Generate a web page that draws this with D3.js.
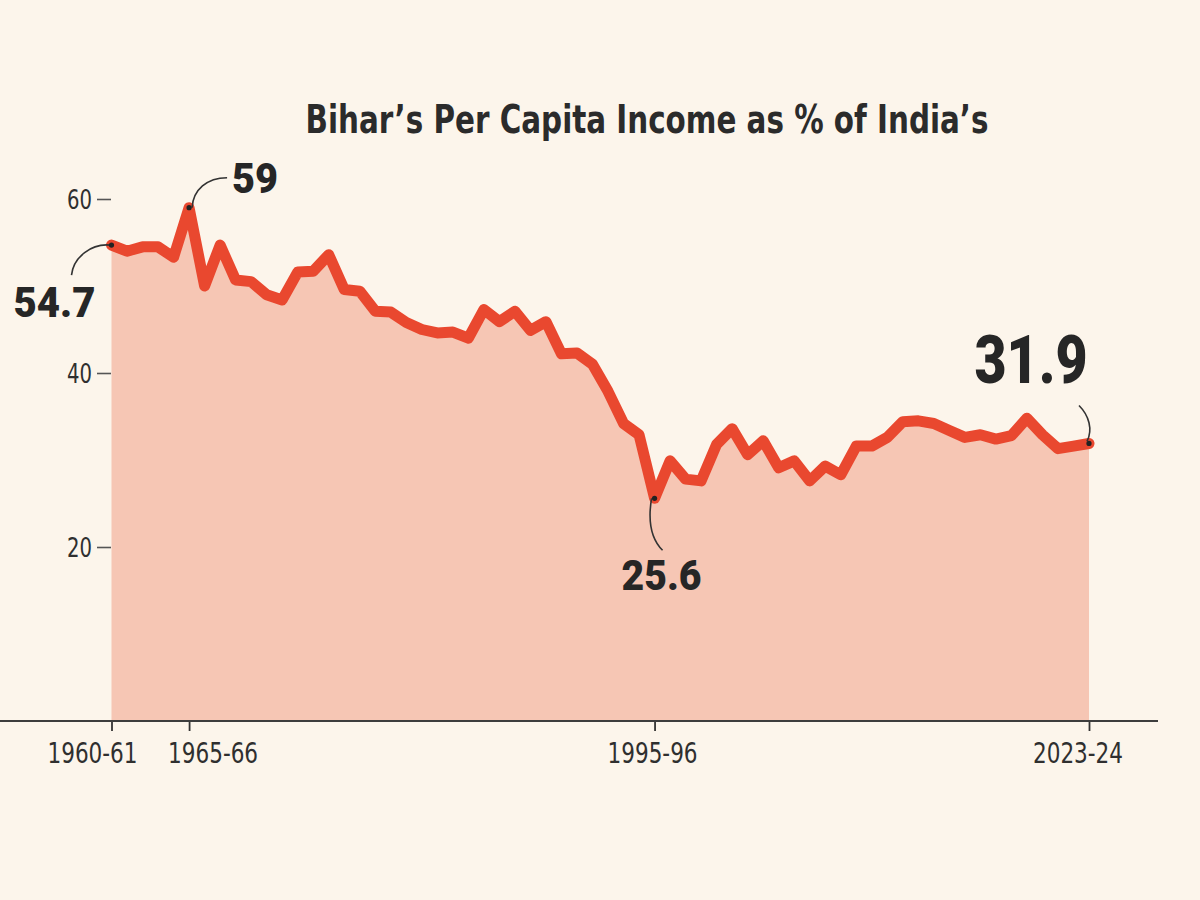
<!DOCTYPE html>
<html lang="en">
<head>
    <meta charset="UTF-8">
    <title>Bihar's Per Capita Income as % of India's</title>
    <script src="https://d3js.org/d3.v7.min.js"></script>
    <style>
        body { margin: 0; background: #fcf5eb; }
        svg { display: block; }
        .title { font-family: "Liberation Sans Narrow", "DejaVu Sans Condensed", Roboto, sans-serif; font-weight: bold; fill: #2b2b2b; }
        .tick-label { font-family: "Liberation Sans Narrow", "DejaVu Sans Condensed", Roboto, sans-serif; fill: #2f2f2f; }
        .callout { font-family: Roboto, "Noto Sans", sans-serif; font-weight: 900; fill: #262626; }
        .leader { fill: none; stroke: #333; stroke-width: 1.6; }
    </style>
</head>
<body>
    <div id="chart"></div>

    <script>
        const years = [1960, 1961, 1962, 1963, 1964, 1965, 1966, 1967, 1968, 1969,
                       1970, 1971, 1972, 1973, 1974, 1975, 1976, 1977, 1978, 1979,
                       1980, 1981, 1982, 1983, 1984, 1985, 1986, 1987, 1988, 1989,
                       1990, 1991, 1992, 1993, 1994, 1995, 1996, 1997, 1998, 1999,
                       2000, 2001, 2002, 2003, 2004, 2005, 2006, 2007, 2008, 2009,
                       2010, 2011, 2012, 2013, 2014, 2015, 2016, 2017, 2018, 2019,
                       2020, 2021, 2022, 2023];
        const share = [54.7, 54.0, 54.5, 54.5, 53.3, 59.0, 50.0, 54.7, 50.7, 50.5,
                       49.0, 48.4, 51.6, 51.7, 53.6, 49.6, 49.4, 47.1, 47.0, 45.8,
                       45.0, 44.6, 44.7, 44.0, 47.3, 45.9, 47.1, 44.9, 45.9, 42.2,
                       42.3, 41.0, 37.9, 34.2, 32.9, 25.6, 29.9, 27.8, 27.6, 31.8,
                       33.6, 30.6, 32.2, 29.1, 29.9, 27.6, 29.3, 28.3, 31.6, 31.6,
                       32.6, 34.4, 34.5, 34.2, 33.4, 32.6, 32.9, 32.4, 32.8, 34.8,
                       32.9, 31.3, 31.6, 31.9];

        const tickYears = [1960, 1965, 1995, 2023];
        const tickLabels = ["1960-61", "1965-66", "1995-96", "2023-24"];
        const yTicks = [20, 40, 60];

        const callouts = [
            { year: 1960, value: 54.7, text: "54.7" },
            { year: 1965, value: 59.0, text: "59" },
            { year: 1995, value: 25.6, text: "25.6" },
            { year: 2023, value: 31.9, text: "31.9" }
        ];

        const width = 1200, height = 900;
        const svg = d3.select("#chart").append("svg")
            .attr("width", width)
            .attr("height", height);

        svg.append("rect").attr("width", width).attr("height", height).attr("fill", "#fcf5eb");

        const x = d3.scaleLinear().domain([1960, 2023]).range([111.5, 1089]);
        const y = d3.scaleLinear().domain([0, 60]).range([721, 199]);

        const series = years.map((yr, i) => ({ year: yr, value: share[i] }));

        // shaded area
        svg.append("path")
            .datum(series)
            .attr("fill", "#f6c6b4")
            .attr("d", d3.area().x(d => x(d.year)).y0(y(0)).y1(d => y(d.value)));

        // baseline axis
        const xAxis = svg.append("g")
            .attr("transform", `translate(0, ${y(0)})`)
            .call(d3.axisBottom(x).tickValues(tickYears).tickSize(10).tickFormat(""));
        xAxis.select(".domain").remove();
        xAxis.selectAll(".tick line").attr("stroke", "#333").attr("stroke-width", 1.8);
        svg.append("line")
            .attr("x1", 0).attr("x2", 1158)
            .attr("y1", y(0)).attr("y2", y(0))
            .attr("stroke", "#3d3d3d").attr("stroke-width", 2.2);

        // labels sit slightly off their ticks in the original, nudge them
        const labelNudge = [-19, 24, -2, -11];
        svg.selectAll(".tick-label.x")
            .data(tickYears)
            .enter().append("text")
            .attr("class", "tick-label x")
            .attr("x", (d, i) => x(d) + labelNudge[i])
            .attr("y", 763)
            .attr("text-anchor", "middle")
            .attr("font-size", 29)
            .attr("textLength", 90)
            .attr("lengthAdjust", "spacingAndGlyphs")
            .text((d, i) => tickLabels[i]);

        // y ticks
        const yAxis = svg.append("g")
            .attr("transform", "translate(111, 0)")
            .call(d3.axisLeft(y).tickValues(yTicks).tickSize(14).tickFormat(""));
        yAxis.select(".domain").remove();
        yAxis.selectAll(".tick line").attr("stroke", "#555").attr("stroke-width", 1.6);

        svg.selectAll(".tick-label.y")
            .data(yTicks)
            .enter().append("text")
            .attr("class", "tick-label y")
            .attr("x", 92)
            .attr("y", d => y(d) + 10)
            .attr("text-anchor", "end")
            .attr("font-size", 27)
            .attr("textLength", 25)
            .attr("lengthAdjust", "spacingAndGlyphs")
            .text(d => d);

        // line
        svg.append("path")
            .datum(series)
            .attr("fill", "none")
            .attr("stroke", "#e9482f")
            .attr("stroke-width", 11)
            .attr("stroke-linejoin", "round")
            .attr("stroke-linecap", "round")
            .attr("d", d3.line().x(d => x(d.year)).y(d => y(d.value)));

        // title
        svg.append("text")
            .attr("class", "title")
            .attr("x", 647)
            .attr("y", 133)
            .attr("text-anchor", "middle")
            .attr("font-size", 39)
            .attr("textLength", 683)
            .attr("lengthAdjust", "spacingAndGlyphs")
            .text("Bihar\u2019s Per Capita Income as % of India\u2019s");

        // callout leaders and labels
        const px = d => x(d.year), py = d => y(d.value);
        const leaders = [
            d => `M${px(d) - 1},${py(d)} C${px(d) - 20},${py(d) - 2} ${px(d) - 38},${py(d) + 12} ${px(d) - 40},${py(d) + 30}`,
            d => `M${px(d) + 3},${py(d)} C${px(d) + 4},${py(d) - 18} ${px(d) + 18},${py(d) - 30} ${px(d) + 38},${py(d) - 30}`,
            d => `M${px(d) - 3},${py(d)} C${px(d) - 6},${py(d) + 18} ${px(d) - 6},${py(d) + 38} ${px(d) + 8},${py(d) + 52}`,
            d => `M${px(d) - 2},${py(d) - 2} C${px(d) + 4},${py(d) - 14} ${px(d)},${py(d) - 28} ${px(d) - 10},${py(d) - 38}`
        ];
        const labelPos = [
            { dx: -57, dy: 72, size: 43, len: 82 },
            { dx: 66, dy: -15, size: 43, len: 46 },
            { dx: 7, dy: 92, size: 43, len: 80 },
            { dx: -58, dy: -60, size: 66, len: 113 }
        ];

        callouts.forEach((c, i) => {
            svg.append("path").attr("class", "leader").attr("d", leaders[i](c));
            svg.append("circle").attr("cx", px(c)).attr("cy", py(c)).attr("r", 2.6).attr("fill", "#222");
            svg.append("text")
                .attr("class", "callout")
                .attr("x", px(c) + labelPos[i].dx)
                .attr("y", py(c) + labelPos[i].dy)
                .attr("text-anchor", "middle")
                .attr("font-size", labelPos[i].size)
                .attr("textLength", labelPos[i].len)
                .attr("lengthAdjust", "spacingAndGlyphs")
                .text(c.text);
        });
    </script>
</body>
</html>
